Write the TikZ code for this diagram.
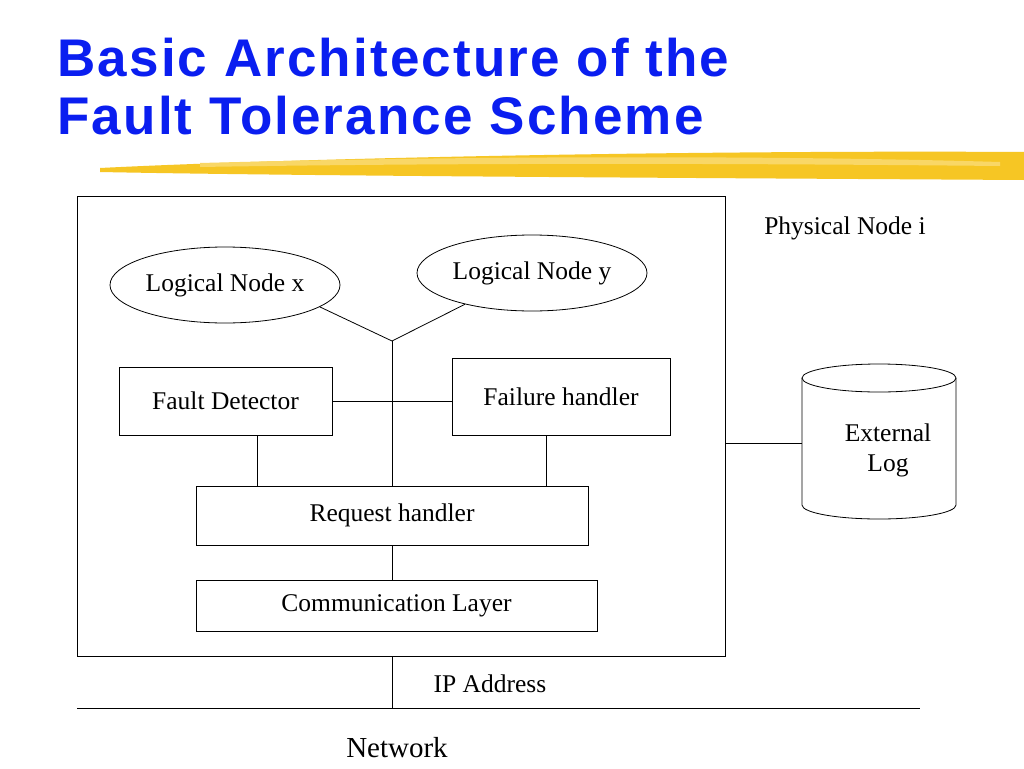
\documentclass[tikz,border=0pt]{standalone}
\usepackage{fontspec}
\setmainfont{Liberation Serif}
\newfontfamily\titlefont[LetterSpace=4]{Liberation Sans}
\usetikzlibrary{shapes.geometric}
\definecolor{titleblue}{HTML}{0A1EF0}
\definecolor{brush}{HTML}{F6C624}
\tikzset{
  box/.style={draw, thick, inner sep=0pt},
  lab/.style={font=\fontsize{25.5}{30}\selectfont},
  link/.style={thick}
}
\begin{document}
\begin{tikzpicture}[x=1pt,y=-1pt]
\useasboundingbox[fill=white] (0,0) rectangle (1024,768);
% title
\node[anchor=base west, text=titleblue, font=\titlefont\bfseries\fontsize{53}{60}\selectfont] (title) at (54,76) {Basic Architecture of the};
\node[anchor=base west, text=titleblue, font=\titlefont\bfseries\fontsize{53}{60}\selectfont] (title2) at (54,134) {Fault Tolerance Scheme};
\fill[brush] (100,168) .. controls (300,158) and (700,150) .. (1024,152) -- (1024,180) .. controls (700,178) and (300,176) .. (100,172) -- cycle;
\fill[brush!70!white] (200,163) .. controls (500,155) and (800,156) .. (1000,162) -- (1000,166) .. controls (800,164) and (500,162) .. (200,167) -- cycle;

% physical node
\draw[box] (77,196) rectangle (725,656);
\node[lab] (phys) at (845,228) {Physical Node i};

% logical nodes
\node[box, ellipse, minimum width=230, minimum height=76, lab] (lnx) at (225,285) {Logical Node x};
\node[box, ellipse, minimum width=230, minimum height=76, lab] (lny) at (532,273) {Logical Node y};
\coordinate (join) at (392,341);

% boxes
\node[box, minimum width=213, minimum height=68, lab] (fd) at (225.5,401) {Fault Detector};
\node[box, minimum width=218, minimum height=77, lab] (fh) at (561,396.5) {Failure handler};
\node[box, minimum width=392, minimum height=59, lab] (rh) at (392,515.5) {Request handler};
\node[box, minimum width=401, minimum height=51, lab] (cl) at (396.5,605.5) {Communication Layer};

% connectors
\draw[link] (lnx.-13) -- (join) -- (lny.-155);
\draw[link] (join) -- (join |- rh.north);
\draw[link] (fd.east) -- (fh.west |- fd.east);
\draw[link] (fd.south -| 257,0) -- (rh.north -| 257,0);
\draw[link] (fh.south -| 546,0) -- (rh.north -| 546,0);
\draw[link] (rh.south -| join) -- (cl.north -| join);

% network
\coordinate (ipA) at (392,656);
\coordinate (netL) at (77,708);
\coordinate (netR) at (920,708);
\draw[link] (ipA) -- (ipA |- netL);
\draw[link] (netL) -- (netR);
\node[lab] (ip) at (490,684) {IP Address};
\node[font=\fontsize{29}{34}\selectfont] (net) at (397,748) {Network};

% external log
\draw[thick, fill=white] (802,378) -- (802,505) arc[start angle=180, end angle=0, x radius=77, y radius=14] -- (956,378);
\draw[thick] (879,378) ellipse[x radius=77, y radius=14];
\node[lab, align=center] (log) at (888,450) {External\\Log};
\coordinate (logW) at (802,443);
\draw[link] (725,443) -- (logW);
\end{tikzpicture}
\end{document}
